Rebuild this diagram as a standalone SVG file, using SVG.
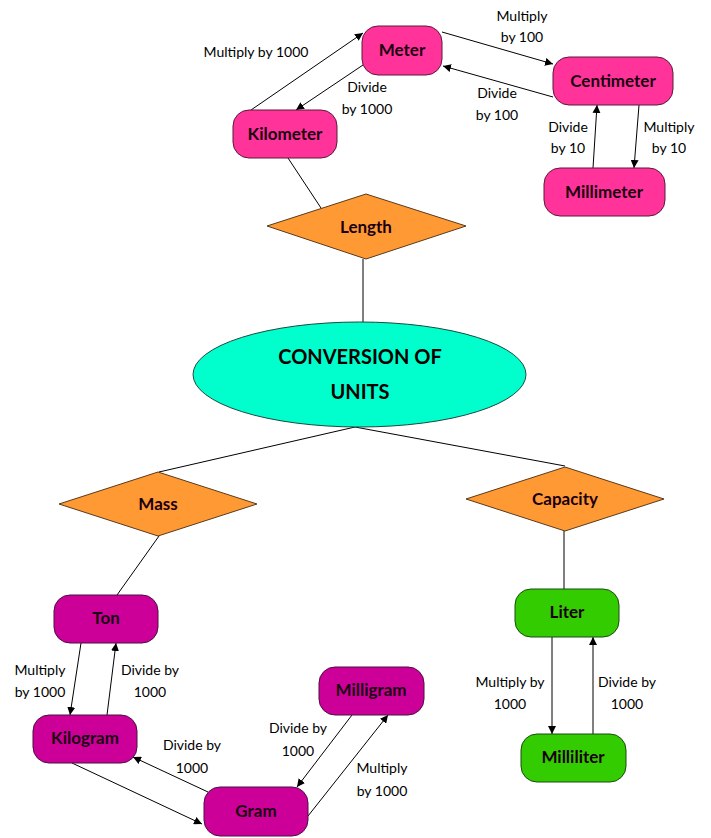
<svg xmlns="http://www.w3.org/2000/svg" width="711" height="838" viewBox="0 0 711 838">
<defs>
<marker id="ah" viewBox="0 0 10 10" refX="10" refY="5" markerWidth="8" markerHeight="8" markerUnits="userSpaceOnUse" orient="auto">
<path d="M0,0 L10,5 L0,10 z" fill="#000"/>
</marker>
<style>
.pk{fill:#FF3399;stroke:#5a1a3a;stroke-width:1}
.mg{fill:#CC0099;stroke:#4a1040;stroke-width:1}
.gr{fill:#33CC00;stroke:#1a4a10;stroke-width:1}
.dm{fill:#FF9933;stroke:#5a3a1a;stroke-width:1}
.el{fill:#00FFCC;stroke:#1a4a40;stroke-width:1}
.nt{font-family:Lato,"Liberation Sans",sans-serif;font-weight:bold;font-size:17px;text-anchor:middle;fill:#1a0010}
.big{font-family:Lato,"Liberation Sans",sans-serif;font-weight:bold;font-size:20px;text-anchor:middle;fill:#000}
.lb{font-family:Lato,"Liberation Sans",sans-serif;font-size:14px;text-anchor:middle;fill:#000}
.ln{stroke:#000;stroke-width:1;fill:none}
.ar{stroke:#000;stroke-width:1;fill:none;marker-end:url(#ah)}
</style>
</defs>
<rect width="711" height="838" fill="#fff"/>

<g id="connectors">
<line class="ln" x1="288" y1="158" x2="321" y2="208"/>
<line class="ln" x1="363" y1="259" x2="363" y2="322"/>
<line class="ln" x1="355" y1="427" x2="159" y2="472"/>
<line class="ln" x1="355" y1="427" x2="565" y2="466"/>
<line class="ln" x1="159" y1="536" x2="117" y2="595"/>
<line class="ln" x1="564" y1="531" x2="564" y2="589"/>
<line class="ar" x1="251" y1="110" x2="363" y2="33"/>
<line class="ar" x1="363" y1="65" x2="296" y2="110"/>
<line class="ar" x1="442" y1="32" x2="553" y2="64"/>
<line class="ar" x1="553" y1="97" x2="443" y2="66"/>
<line class="ar" x1="639" y1="105" x2="634" y2="168"/>
<line class="ar" x1="593" y1="168" x2="597" y2="105"/>
<line class="ar" x1="81" y1="643" x2="70" y2="715"/>
<line class="ar" x1="107" y1="715" x2="116" y2="643"/>
<line class="ar" x1="72" y1="763" x2="202" y2="824"/>
<line class="ar" x1="208" y1="792" x2="133" y2="757"/>
<line class="ar" x1="352" y1="715" x2="297" y2="787"/>
<line class="ar" x1="308" y1="816" x2="388" y2="715"/>
<line class="ar" x1="552" y1="637" x2="552" y2="734"/>
<line class="ar" x1="593" y1="734" x2="593" y2="637"/>
</g>

<g id="labels">
<text class="lb" x="256" y="57">Multiply by 1000</text>
<text class="lb" x="367" y="92">Divide</text>
<text class="lb" x="367" y="114">by 1000</text>
<text class="lb" x="522" y="21">Multiply</text>
<text class="lb" x="522" y="42">by 100</text>
<text class="lb" x="497" y="98">Divide</text>
<text class="lb" x="497" y="120">by 100</text>
<text class="lb" x="568" y="132">Divide</text>
<text class="lb" x="568" y="153">by 10</text>
<text class="lb" x="669" y="132">Multiply</text>
<text class="lb" x="669" y="153">by 10</text>
<text class="lb" x="40" y="675">Multiply</text>
<text class="lb" x="40" y="697">by 1000</text>
<text class="lb" x="150" y="675">Divide by</text>
<text class="lb" x="150" y="697">1000</text>
<text class="lb" x="192" y="750">Divide by</text>
<text class="lb" x="192" y="773">1000</text>
<text class="lb" x="298" y="733">Divide by</text>
<text class="lb" x="298" y="756">1000</text>
<text class="lb" x="382" y="773">Multiply</text>
<text class="lb" x="382" y="796">by 1000</text>
<text class="lb" x="510" y="687">Multiply by</text>
<text class="lb" x="510" y="709">1000</text>
<text class="lb" x="627" y="687">Divide by</text>
<text class="lb" x="627" y="709">1000</text>
</g>

<g id="meter"><rect class="pk" x="362" y="26" width="80" height="49" rx="16"/><text class="nt" x="402" y="56">Meter</text></g>
<g id="kilometer"><rect class="pk" x="233" y="110" width="104" height="48" rx="16"/><text class="nt" x="285" y="140">Kilometer</text></g>
<g id="centimeter"><rect class="pk" x="553" y="57" width="120" height="48" rx="16"/><text class="nt" x="613" y="87">Centimeter</text></g>
<g id="millimeter"><rect class="pk" x="544" y="168" width="121" height="48" rx="16"/><text class="nt" x="604" y="198">Millimeter</text></g>
<g id="length"><polygon class="dm" points="267,226 366,194 466,226 366,259"/><text class="nt" x="366" y="233">Length</text></g>
<g id="conversion"><ellipse class="el" cx="359.5" cy="374.5" rx="166.5" ry="52.5"/><text class="big" x="360" y="364">CONVERSION OF</text><text class="big" x="360" y="399">UNITS</text></g>
<g id="mass"><polygon class="dm" points="59,504 158,472 257,504 158,536"/><text class="nt" x="158" y="510">Mass</text></g>
<g id="capacity"><polygon class="dm" points="466,499 565,467 664,499 565,531"/><text class="nt" x="565" y="505">Capacity</text></g>
<g id="ton"><rect class="mg" x="54" y="595" width="104" height="48" rx="16"/><text class="nt" x="106" y="624">Ton</text></g>
<g id="kilogram"><rect class="mg" x="33" y="715" width="104" height="48" rx="16"/><text class="nt" x="85" y="744">Kilogram</text></g>
<g id="gram"><rect class="mg" x="204" y="787" width="104" height="49" rx="16"/><text class="nt" x="256" y="817">Gram</text></g>
<g id="milligram"><rect class="mg" x="319" y="667" width="105" height="48" rx="16"/><text class="nt" x="371" y="696">Milligram</text></g>
<g id="liter"><rect class="gr" x="515" y="589" width="104" height="48" rx="16"/><text class="nt" x="567" y="618">Liter</text></g>
<g id="milliliter"><rect class="gr" x="521" y="734" width="105" height="48" rx="16"/><text class="nt" x="573" y="763">Milliliter</text></g>
</svg>
